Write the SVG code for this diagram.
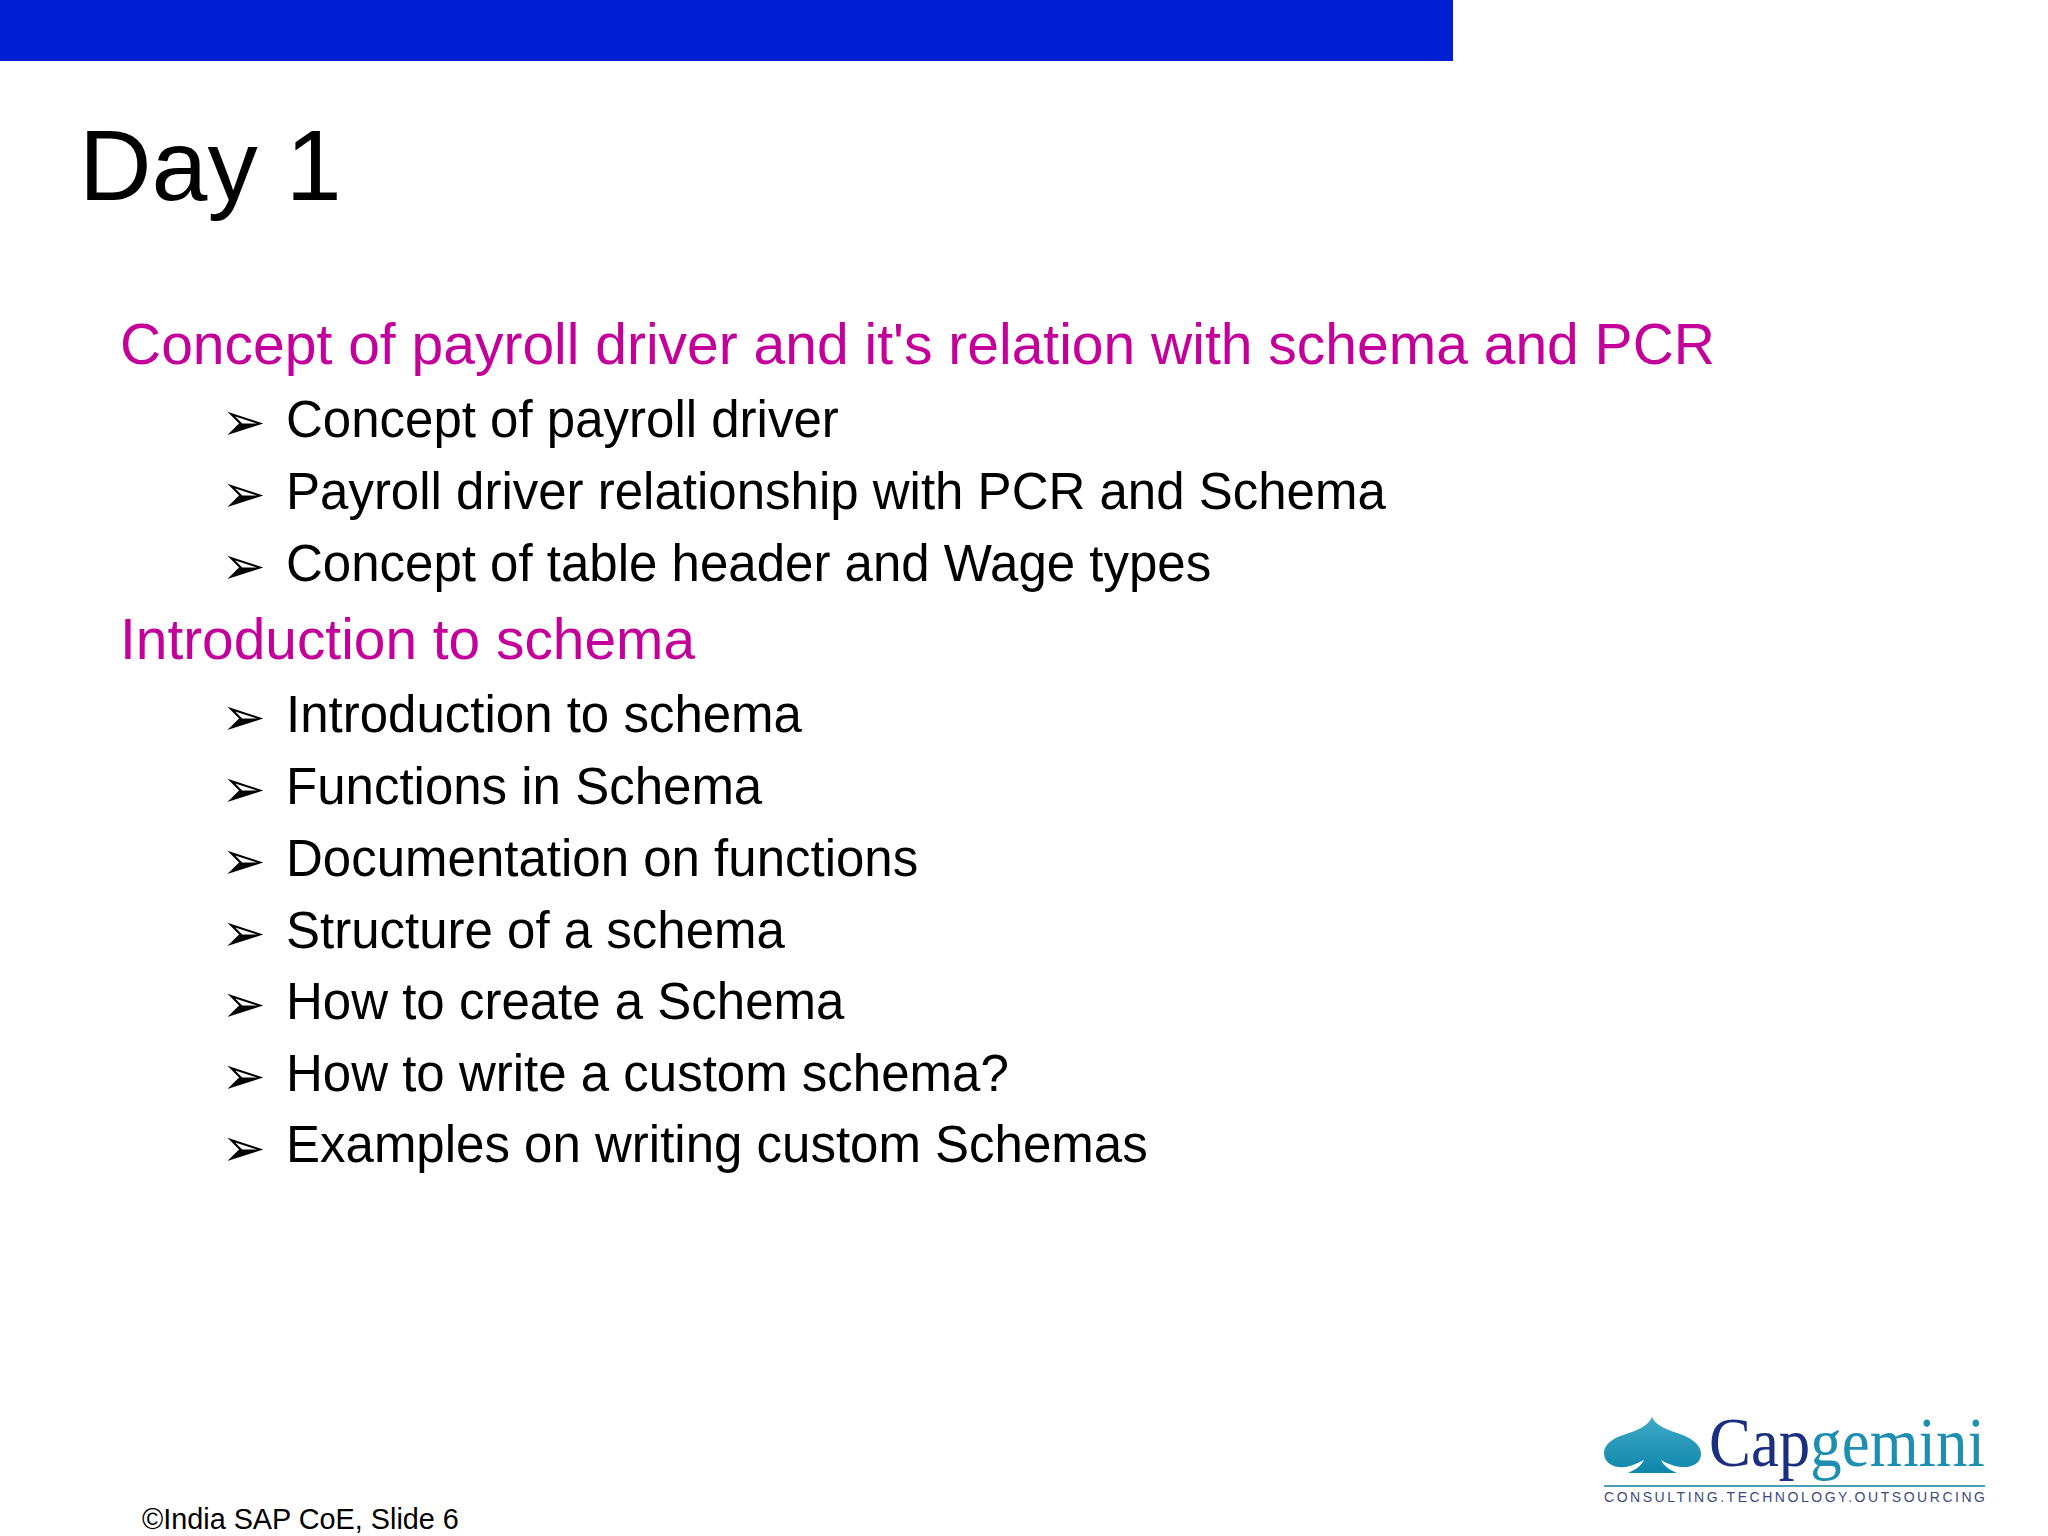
<svg xmlns="http://www.w3.org/2000/svg" width="2048" height="1536" viewBox="0 0 2048 1536">
<style>
text{font-family:"Liberation Sans",Arial,sans-serif;fill:#000}
.h{font-size:57px;fill:#c4009a}
.s{font-size:51px}
.b{font-size:53px;font-family:"DejaVu Sans",sans-serif}
.logo{font-family:"Liberation Serif",serif;font-size:69px}
</style>
<defs>
<linearGradient id="sp" x1="0" y1="0" x2="0" y2="1"><stop offset="0" stop-color="#3fa9c6"/><stop offset="1" stop-color="#0f86ab"/></linearGradient>
</defs>
<rect width="2048" height="1536" fill="#fff"/>
<rect id="bar" x="0" y="0" width="1453" height="61" fill="#001ed2"/>
<text id="title" x="79" y="200" font-size="100.5">Day 1</text>
<g id="section1">
<text class="h" x="120" y="364">Concept of payroll driver and it's relation with schema and PCR</text>
<text class="b" x="221.5" y="440">➢</text><text class="s" x="286" y="437">Concept of payroll driver</text>
<text class="b" x="221.5" y="512">➢</text><text class="s" x="286" y="509">Payroll driver relationship with PCR and Schema</text>
<text class="b" x="221.5" y="584">➢</text><text class="s" x="286" y="581">Concept of table header and Wage types</text>
</g>
<g id="section2">
<text class="h" x="120" y="659" textLength="575" lengthAdjust="spacingAndGlyphs">Introduction to schema</text>
<text class="b" x="221.5" y="735">➢</text><text class="s" x="286" y="732">Introduction to schema</text>
<text class="b" x="221.5" y="807">➢</text><text class="s" x="286" y="804">Functions in Schema</text>
<text class="b" x="221.5" y="879">➢</text><text class="s" x="286" y="875.5">Documentation on functions</text>
<text class="b" x="221.5" y="951">➢</text><text class="s" x="286" y="947.5">Structure of a schema</text>
<text class="b" x="221.5" y="1022">➢</text><text class="s" x="286" y="1019">How to create a Schema</text>
<text class="b" x="221.5" y="1094">➢</text><text class="s" x="286" y="1090.5">How to write a custom schema?</text>
<text class="b" x="221.5" y="1166">➢</text><text class="s" x="286" y="1162">Examples on writing custom Schemas</text>
</g>
<g id="logo">
<path d="M1652 1417C1656 1426 1668 1430 1680 1434C1694 1439 1701 1446 1701 1454C1701 1466 1686 1470 1672 1465C1666 1463 1663 1461 1661 1460C1664 1466 1670 1470 1677 1473L1628 1473C1635 1470 1641 1466 1644 1460C1640 1462 1636 1464 1630 1466C1616 1470 1604 1464 1604 1453C1604 1445 1612 1438 1626 1434C1638 1430 1648 1426 1652 1417Z" fill="url(#sp)"/>
<text class="logo" x="1709" y="1466" textLength="276" lengthAdjust="spacingAndGlyphs" style="fill:#1b2f80">Cap<tspan style="fill:#1e8fb0">gemini</tspan></text>
<rect x="1604" y="1485" width="381" height="2" fill="#4a9fb4"/>
<text x="1604" y="1502" font-size="14" textLength="381" style="fill:#3c4a7c">CONSULTING.TECHNOLOGY.OUTSOURCING</text>
</g>
<text id="footer" x="142" y="1529" font-size="28.8">©India SAP CoE, Slide 6</text>
</svg>
